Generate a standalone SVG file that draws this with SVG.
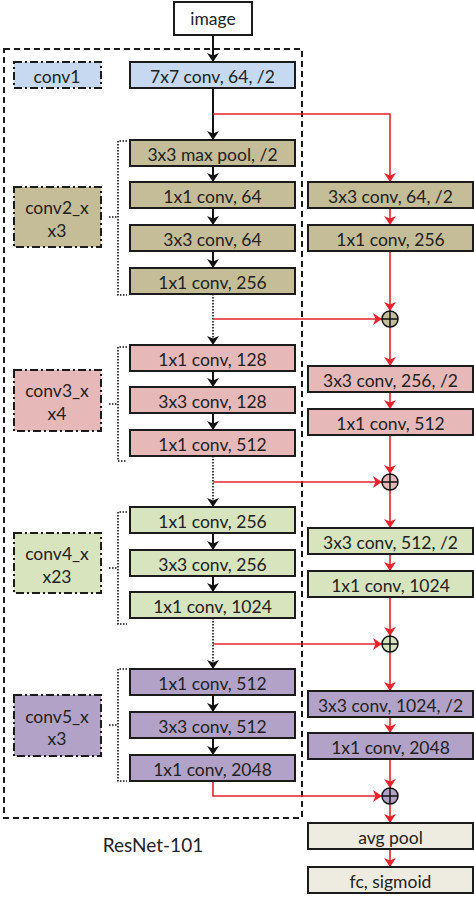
<svg xmlns="http://www.w3.org/2000/svg" width="474" height="919" viewBox="0 0 474 919">
<style>
.b{stroke:#1b1b1b;stroke-width:2}
.lbl{stroke:#1b1b1b;stroke-width:2;stroke-dasharray:8 3 2 3}
.c0{fill:#ffffff}.c1{fill:#c6d9f1}.c2{fill:#c4bd97}.c3{fill:#e6b9b8}.c4{fill:#d7e4bd}.c5{fill:#b3a2c7}.c6{fill:#eeece1}
text{font-family:Lato,"Liberation Sans",Arial,sans-serif;font-size:17.5px;fill:#222;text-anchor:middle}
.k{stroke:#111;stroke-width:2;fill:none}
.kd{stroke:#111;stroke-width:1.6;stroke-dasharray:1.5 1.5;fill:none}
.r{stroke:#e8212b;stroke-width:1.6;fill:none}
.sum{stroke:#111;stroke-width:1.5}
</style>
<defs>
<marker id="ab" markerUnits="userSpaceOnUse" markerWidth="14" markerHeight="14" refX="9" refY="6" orient="auto"><path d="M0,0 L9,6 L0,12 L2.5,6 z" fill="#111"/></marker>
<marker id="ar" markerUnits="userSpaceOnUse" markerWidth="14" markerHeight="14" refX="9" refY="6" orient="auto"><path d="M0,0 L9,6 L0,12 L2.5,6 z" fill="#e8212b"/></marker>
</defs>

<rect x="4" y="49" width="298" height="769" fill="none" stroke="#1b1b1b" stroke-width="2" stroke-dasharray="6 4"/>
<text x="153" y="852" style="font-size:19px">ResNet-101</text>

<g id="connectors">
<path class="k" d="M213,35 V62" marker-end="url(#ab)"/>
<path class="k" d="M213,88 V140" marker-end="url(#ab)"/>
<path class="k" d="M213,166 V182" marker-end="url(#ab)"/>
<path class="k" d="M213,208 V225" marker-end="url(#ab)"/>
<path class="k" d="M213,251 V268" marker-end="url(#ab)"/>
<path class="kd" d="M213,294 V345" marker-end="url(#ab)"/>
<path class="k" d="M213,371 V387" marker-end="url(#ab)"/>
<path class="k" d="M213,413 V430" marker-end="url(#ab)"/>
<path class="kd" d="M213,456 V507" marker-end="url(#ab)"/>
<path class="k" d="M213,533 V550" marker-end="url(#ab)"/>
<path class="k" d="M213,576 V592" marker-end="url(#ab)"/>
<path class="kd" d="M213,618 V669" marker-end="url(#ab)"/>
<path class="k" d="M213,695 V712" marker-end="url(#ab)"/>
<path class="k" d="M213,738 V755" marker-end="url(#ab)"/>

<path class="r" d="M213,114 H390 V182" marker-end="url(#ar)"/>
<path class="r" d="M390,208 V225" marker-end="url(#ar)"/>
<path class="r" d="M390,251 V311" marker-end="url(#ar)"/>
<path class="r" d="M213,319 H382" marker-end="url(#ar)"/>
<path class="r" d="M390,327 V366" marker-end="url(#ar)"/>
<path class="r" d="M390,392 V409" marker-end="url(#ar)"/>
<path class="r" d="M390,435 V474" marker-end="url(#ar)"/>
<path class="r" d="M213,482 H382" marker-end="url(#ar)"/>
<path class="r" d="M390,490 V528" marker-end="url(#ar)"/>
<path class="r" d="M390,554 V571" marker-end="url(#ar)"/>
<path class="r" d="M390,597 V636" marker-end="url(#ar)"/>
<path class="r" d="M213,644 H382" marker-end="url(#ar)"/>
<path class="r" d="M390,652 V691" marker-end="url(#ar)"/>
<path class="r" d="M390,717 V733" marker-end="url(#ar)"/>
<path class="r" d="M390,759 V788" marker-end="url(#ar)"/>
<path class="r" d="M213,781 V796 H382" marker-end="url(#ar)"/>
<path class="r" d="M390,804 V823" marker-end="url(#ar)"/>
<path class="r" d="M390,849 V867" marker-end="url(#ar)"/>

<path class="kd" d="M127,141 H118 V295 H127 M109,217 H118"/>
<path class="kd" d="M127,347 H118 V461 H127 M109,404 H118"/>
<path class="kd" d="M127,512 H118 V624 H127 M109,568 H118"/>
<path class="kd" d="M127,669 H118 V781 H127 M109,725 H118"/>
</g>

<g id="image"><rect class="b c0" x="174" y="2" width="78" height="33"/><text x="213" y="25">image</text></g>

<g id="conv1-label"><rect class="lbl c1" x="14" y="62" width="87" height="26"/><text x="57" y="82.5">conv1</text></g>
<g id="conv2-label"><rect class="lbl c2" x="14" y="187" width="87" height="60"/><text x="57" y="214">conv2_x</text><text x="57" y="237">x3</text></g>
<g id="conv3-label"><rect class="lbl c3" x="14" y="370" width="87" height="61"/><text x="57" y="397">conv3_x</text><text x="57" y="420">x4</text></g>
<g id="conv4-label"><rect class="lbl c4" x="14" y="533" width="87" height="60"/><text x="57" y="560">conv4_x</text><text x="57" y="583">x23</text></g>
<g id="conv5-label"><rect class="lbl c5" x="14" y="695" width="87" height="61"/><text x="57" y="723">conv5_x</text><text x="57" y="745">x3</text></g>

<g id="conv1"><rect class="b c1" x="130" y="62" width="165" height="26"/><text x="212.5" y="82.5">7x7 conv, 64, /2</text></g>
<g id="maxpool"><rect class="b c2" x="130" y="140" width="165" height="26"/><text x="212.5" y="160.5">3x3 max pool, /2</text></g>
<g id="conv2a"><rect class="b c2" x="130" y="182" width="165" height="26"/><text x="212.5" y="202.5">1x1 conv, 64</text></g>
<g id="conv2b"><rect class="b c2" x="130" y="225" width="165" height="26"/><text x="212.5" y="245.5">3x3 conv, 64</text></g>
<g id="conv2c"><rect class="b c2" x="130" y="268" width="165" height="26"/><text x="212.5" y="288.5">1x1 conv, 256</text></g>
<g id="conv3a"><rect class="b c3" x="130" y="345" width="165" height="26"/><text x="212.5" y="365.5">1x1 conv, 128</text></g>
<g id="conv3b"><rect class="b c3" x="130" y="387" width="165" height="26"/><text x="212.5" y="407.5">3x3 conv, 128</text></g>
<g id="conv3c"><rect class="b c3" x="130" y="430" width="165" height="26"/><text x="212.5" y="450.5">1x1 conv, 512</text></g>
<g id="conv4a"><rect class="b c4" x="130" y="507" width="165" height="26"/><text x="212.5" y="527.5">1x1 conv, 256</text></g>
<g id="conv4b"><rect class="b c4" x="130" y="550" width="165" height="26"/><text x="212.5" y="570.5">3x3 conv, 256</text></g>
<g id="conv4c"><rect class="b c4" x="130" y="592" width="165" height="26"/><text x="212.5" y="612.5">1x1 conv, 1024</text></g>
<g id="conv5a"><rect class="b c5" x="130" y="669" width="165" height="26"/><text x="212.5" y="689.5">1x1 conv, 512</text></g>
<g id="conv5b"><rect class="b c5" x="130" y="712" width="165" height="26"/><text x="212.5" y="732.5">3x3 conv, 512</text></g>
<g id="conv5c"><rect class="b c5" x="130" y="755" width="165" height="26"/><text x="212.5" y="775.5">1x1 conv, 2048</text></g>

<g id="r2a"><rect class="b c2" x="308" y="182" width="165" height="26"/><text x="390.5" y="202.5">3x3 conv, 64, /2</text></g>
<g id="r2b"><rect class="b c2" x="308" y="225" width="165" height="26"/><text x="390.5" y="245.5">1x1 conv, 256</text></g>
<g id="r3a"><rect class="b c3" x="308" y="366" width="165" height="26"/><text x="390.5" y="386.5">3x3 conv, 256, /2</text></g>
<g id="r3b"><rect class="b c3" x="308" y="409" width="165" height="26"/><text x="390.5" y="429.5">1x1 conv, 512</text></g>
<g id="r4a"><rect class="b c4" x="308" y="528" width="165" height="26"/><text x="390.5" y="548.5">3x3 conv, 512, /2</text></g>
<g id="r4b"><rect class="b c4" x="308" y="571" width="165" height="26"/><text x="390.5" y="591.5">1x1 conv, 1024</text></g>
<g id="r5a"><rect class="b c5" x="308" y="691" width="165" height="26"/><text x="390.5" y="711.5">3x3 conv, 1024, /2</text></g>
<g id="r5b"><rect class="b c5" x="308" y="733" width="165" height="26"/><text x="390.5" y="753.5">1x1 conv, 2048</text></g>
<g id="avgpool"><rect class="b c6" x="308" y="823" width="165" height="26"/><text x="390.5" y="843.5">avg pool</text></g>
<g id="fc"><rect class="b c6" x="308" y="867" width="165" height="26"/><text x="390.5" y="887.5">fc, sigmoid</text></g>

<g id="sum2"><circle class="sum c2" cx="390" cy="319" r="8"/><path class="sum" d="M382,319 H398 M390,311 V327"/></g>
<g id="sum3"><circle class="sum c3" cx="390" cy="482" r="8"/><path class="sum" d="M382,482 H398 M390,474 V490"/></g>
<g id="sum4"><circle class="sum c4" cx="390" cy="644" r="8"/><path class="sum" d="M382,644 H398 M390,636 V652"/></g>
<g id="sum5"><circle class="sum c5" cx="390" cy="796" r="8"/><path class="sum" d="M382,796 H398 M390,788 V804"/></g>
</svg>
